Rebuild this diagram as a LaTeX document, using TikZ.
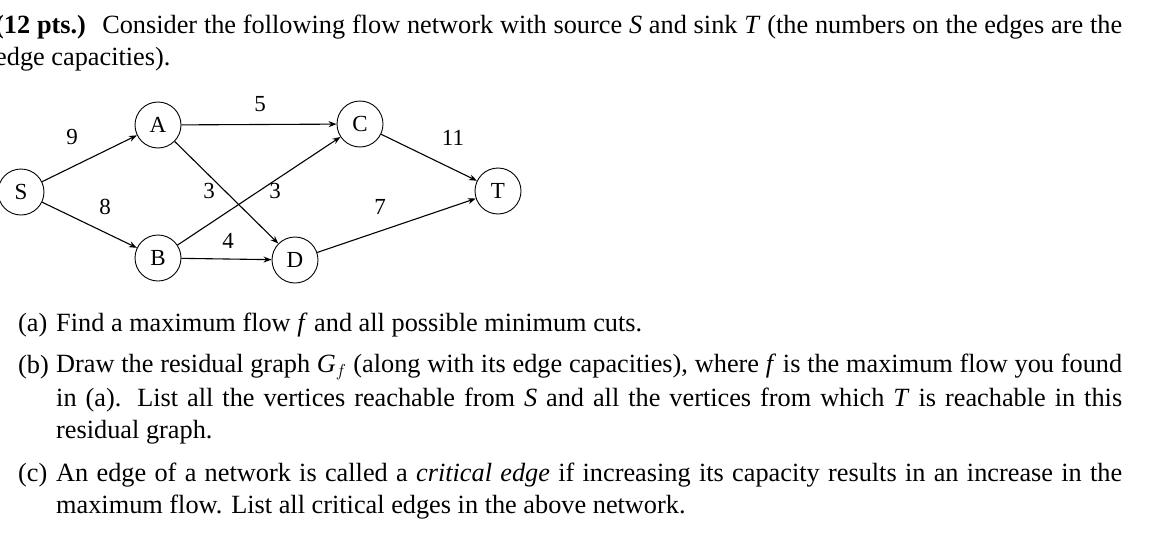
\documentclass[tikz,border=0pt]{standalone}
\usepackage{fontspec}
\setmainfont{Liberation Serif}
\usetikzlibrary{arrows.meta}
\begin{document}
\begin{tikzpicture}[x=1pt,y=-1pt,
  v/.style={circle,draw,line width=0.9pt,minimum size=46pt,inner sep=0pt,font=\fontsize{23}{26}\selectfont},
  e/.style={-{Stealth[length=8pt,width=6pt]},line width=1.1pt},
  lab/.style={font=\fontsize{23}{26}\selectfont},
  ln/.style={anchor=west,inner sep=0pt,font=\fontsize{26.3}{29}\selectfont}]
\useasboundingbox (0,0) rectangle (1158,546);
\node[ln] (l1) at (-5,27) {\makebox[1127pt][s]{\textbf{(12 pts.)} \ Consider the following flow network with source \textit{S} and sink \textit{T} (the numbers on the edges are the}};
\node[ln] (l2) at (-5,59) {edge capacities).};
\node[v] (S) at (21,192) {S};
\node[v] (A) at (158,125) {A};
\node[v] (B) at (158,258) {B};
\node[v] (C) at (360,124) {C};
\node[v] (D) at (295,260) {D};
\node[v] (T) at (498,191) {T};
\draw[e] (S) -- (A);
\draw[e] (S) -- (B);
\draw[e] (A) -- (C);
\draw[e] (A) -- (D);
\draw[e] (B) -- (C);
\draw[e] (B) -- (D);
\draw[e] (C) -- (T);
\draw[e] (D) -- (T);
\node[lab] (w1) at (72,137) {9};
\node[lab] (w2) at (105,207) {8};
\node[lab] (w3) at (260,104) {5};
\node[lab] (w4) at (209,191) {3};
\node[lab] (w5) at (275,191) {3};
\node[lab] (w6) at (228,241) {4};
\node[lab] (w7) at (453,138) {11};
\node[lab] (w8) at (380,207) {7};
\node[ln] (a0) at (18,325) {(a)};
\node[ln] (a) at (56,325) {Find a maximum flow \textit{f} and all possible minimum cuts.};
\node[ln] (b0) at (18,367) {(b)};
\node[ln] (b1) at (56,367) {\makebox[1066pt][s]{Draw the residual graph \textit{G$_f$} (along with its edge capacities), where \textit{f} is the maximum flow you found}};
\node[ln] (b2) at (56,400) {\makebox[1066pt][s]{in (a). List all the vertices reachable from \textit{S} and all the vertices from which \textit{T} is reachable in this}};
\node[ln] (b3) at (56,432) {residual graph.};
\node[ln] (c0) at (18,475) {(c)};
\node[ln] (c1) at (56,475) {\makebox[1066pt][s]{An edge of a network is called a \textit{critical edge} if increasing its capacity results in an increase in the}};
\node[ln] (c2) at (56,507) {maximum flow. List all critical edges in the above network.};
\end{tikzpicture}
\end{document}
